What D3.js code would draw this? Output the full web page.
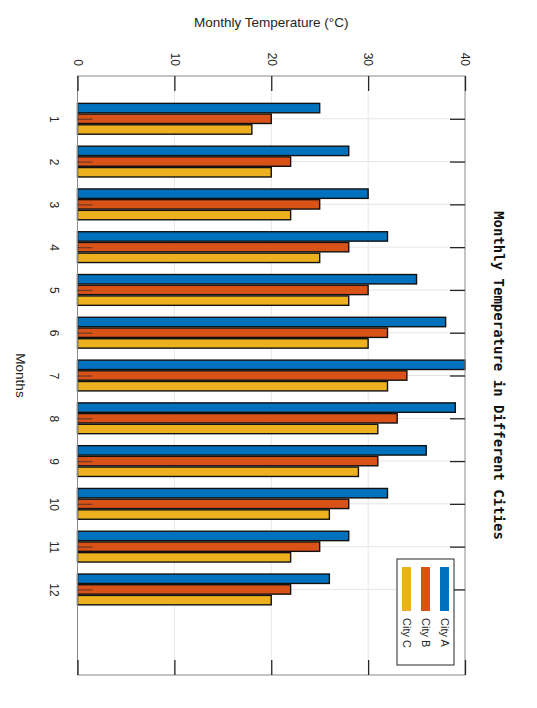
<!DOCTYPE html>
<html>
<head>
<meta charset="utf-8">
<script src="https://d3js.org/d3.v7.min.js"></script>
<style>
  body { margin: 0; background: #fff; }
  svg text { font-family: "Liberation Sans", Arial, sans-serif; fill: #262626; }
</style>
</head>
<body>
<svg id="chart" width="537" height="708"></svg>
<script>
// data
var months = [1, 2, 3, 4, 5, 6, 7, 8, 9, 10, 11, 12];
var cityA = [25, 28, 30, 32, 35, 38, 40, 39, 36, 32, 28, 26];
var cityB = [20, 22, 25, 28, 30, 32, 34, 33, 31, 28, 25, 22];
var cityC = [18, 20, 22, 25, 28, 30, 32, 31, 29, 26, 22, 20];
var cities = ["City A", "City B", "City C"];
var colors = ["#0072BD", "#D95319", "#EDB120"];
var valueTicks = [0, 10, 20, 30, 40];

var series = [cityA, cityB, cityC];

var svg = d3.select("#chart");
svg.append("rect").attr("width", 537).attr("height", 708).attr("fill", "#fff");

// the figure is turned a quarter turn clockwise: values run left->right, months top->bottom
var x = d3.scaleLinear().domain([0, 40]).range([77.5, 465]);
var y = d3.scaleLinear().domain([0, 14]).range([76, 675]);
var barOffset = 0.25;   // month units between bars in a group
var barThick = 0.22;

// grid
svg.append("g").selectAll("line.vg")
  .data(valueTicks.slice(1, -1))
  .enter().append("line")
    .attr("x1", function(d){ return x(d); })
    .attr("x2", function(d){ return x(d); })
    .attr("y1", y(0)).attr("y2", y(14))
    .style("stroke", "#e6e6e6").style("stroke-width", 1);
svg.append("g").selectAll("line.hg")
  .data(months)
  .enter().append("line")
    .attr("x1", x(0)).attr("x2", x(40))
    .attr("y1", function(d){ return y(d); })
    .attr("y2", function(d){ return y(d); })
    .style("stroke", "#e6e6e6").style("stroke-width", 1);

// bars
series.forEach(function(vals, i) {
  svg.append("g").selectAll("rect")
    .data(vals)
    .enter().append("rect")
      .attr("x", x(0))
      .attr("y", function(d, j){ return y(months[j] + (i - 1) * barOffset - barThick / 2); })
      .attr("width", function(d){ return x(d) - x(0); })
      .attr("height", y(barThick) - y(0))
      .style("fill", colors[i])
      .style("stroke", "#111")
      .style("stroke-width", 1.4);
});

// box
svg.append("rect")
  .attr("x", x(0)).attr("y", y(0))
  .attr("width", x(40) - x(0)).attr("height", y(14) - y(0))
  .attr("fill", "none").style("stroke", "#8a8a8a").style("stroke-width", 1);

// axes (ticks point inward)
var topAxis = svg.append("g")
  .attr("transform", "translate(0," + y(0) + ")")
  .call(d3.axisTop(x).tickValues(valueTicks).tickSize(-15));
topAxis.selectAll("text")
  .attr("x", 0).attr("y", 0).attr("dy", "0.35em")
  .attr("text-anchor", "end")
  .attr("transform", "translate(0,-10) rotate(90)")
  .style("font-size", "12px");

svg.append("g")
  .attr("transform", "translate(0," + y(14) + ")")
  .call(d3.axisBottom(x).tickValues(valueTicks).tickSize(-15).tickFormat(""));

svg.append("g")
  .attr("transform", "translate(" + x(40) + ",0)")
  .call(d3.axisRight(y).tickValues(months).tickSize(-15).tickFormat(""));

var leftAxis = svg.append("g")
  .attr("transform", "translate(" + x(0) + ",0)")
  .call(d3.axisLeft(y).tickValues(months).tickSize(-15));
leftAxis.selectAll("text")
  .attr("x", 0).attr("y", 0).attr("dy", 0)
  .attr("text-anchor", "middle")
  .attr("transform", "translate(-28,0) rotate(90)")
  .style("font-size", "12px");
leftAxis.selectAll(".tick line").style("opacity", 0.55);

[topAxis, leftAxis].forEach(function(g){ g.select(".domain").remove(); });
svg.selectAll(".domain").remove();
svg.selectAll(".tick line").style("stroke", "#262626").style("stroke-width", 1.3);
svg.selectAll(".tick text").style("fill", "#262626")
  .style("font-family", "'Liberation Sans', Arial, sans-serif");

// labels
svg.append("text")
  .attr("x", (x(0) + x(40)) / 2).attr("y", 27)
  .attr("text-anchor", "middle")
  .style("font-size", "13.5px")
  .text("Monthly Temperature (\u00B0C)");

svg.append("text")
  .attr("transform", "translate(16," + (y(0) + y(14)) / 2 + ") rotate(90)")
  .attr("text-anchor", "middle")
  .style("font-size", "13.5px")
  .text("Months");

svg.append("text")
  .attr("transform", "translate(494," + (y(0) + y(14)) / 2 + ") rotate(90)")
  .attr("text-anchor", "middle")
  .style("font-family", "'DejaVu Sans Mono', monospace")
  .style("font-weight", "bold")
  .style("font-size", "14px")
  .style("fill", "#111")
  .text("Monthly Temperature in Different Cities");

// legend
var legend = svg.append("g");
legend.append("rect")
  .attr("x", 397).attr("y", 559).attr("width", 57).attr("height", 106)
  .attr("fill", "#fff").style("stroke", "#262626").style("stroke-width", 1);
var items = legend.selectAll("g.item")
  .data(cities)
  .enter().append("g")
    .attr("transform", function(d, i){ return "translate(" + (444.5 - i * 19) + ",0)"; });
items.append("rect")
  .attr("x", -4.5).attr("y", 567).attr("width", 9).attr("height", 44)
  .style("fill", function(d, i){ return colors[i]; });
items.append("text")
  .attr("transform", "translate(0,618) rotate(90)")
  .attr("dy", "0.35em")
  .style("font-size", "11px")
  .text(function(d){ return d; });
</script>
</body>
</html>
